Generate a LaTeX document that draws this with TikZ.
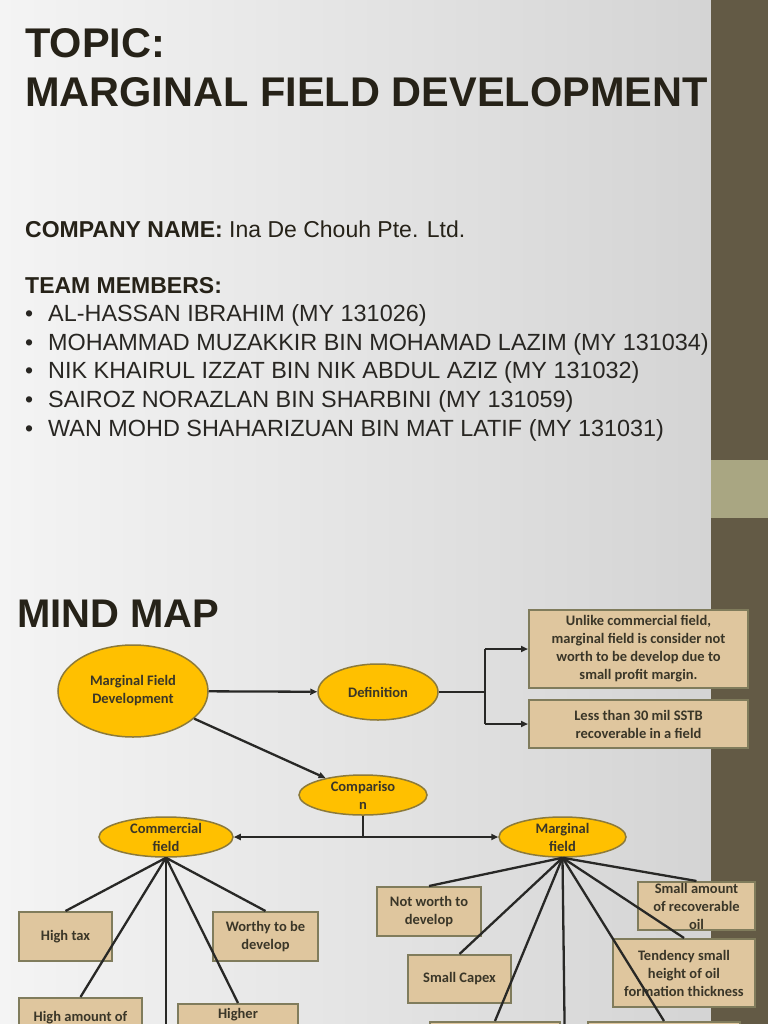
\documentclass[tikz,border=0pt]{standalone}
\usepackage{fontspec}
\setmainfont{Liberation Sans}
\newfontfamily\calfont{Carlito}
\usetikzlibrary{shapes.geometric,arrows.meta}
\definecolor{bgL}{RGB}{244,244,244}
\definecolor{bgR}{RGB}{212,212,212}
\definecolor{barc}{RGB}{99,90,69}
\definecolor{bandc}{RGB}{169,166,130}
\definecolor{titlec}{RGB}{38,34,24}
\definecolor{listc}{RGB}{40,38,34}
\definecolor{goldc}{RGB}{255,192,0}
\definecolor{goldb}{RGB}{140,122,58}
\definecolor{tanc}{RGB}{223,198,158}
\definecolor{tanb}{RGB}{128,124,92}
\definecolor{boxtxt}{RGB}{58,54,40}
\definecolor{linec}{RGB}{40,40,38}
\begin{document}
\begin{tikzpicture}[x=1pt,y=-1pt,
  txt/.style={inner sep=0pt,anchor=base west,text=titlec},
  mmfont/.style={font=\calfont\bfseries\fontsize{14.5}{18}\selectfont},
  oval/.style={ellipse,draw=goldb,line width=1.5pt,fill=goldc,inner sep=0pt,
    mmfont,text=boxtxt,align=center},
  tbox/.style={rectangle,draw=tanb,line width=2pt,fill=tanc,inner sep=0pt,
    mmfont,text=boxtxt,align=center},
  btxt/.style={inner sep=0pt,anchor=base,text=boxtxt,mmfont},
  conn/.style={draw=linec,line width=2.3pt},
  arr/.style={conn,-{Triangle[length=7pt,width=6pt]}}]
\useasboundingbox (0,0) rectangle (768,1024);
\clip (0,0) rectangle (768,1024);
% background
\shade[left color=bgL,right color=bgR] (0,0) rectangle (711,1024);
\fill[barc] (711,0) rectangle (768,1024);
\fill[bandc] (711,460) rectangle (768,518);
% header
\node[txt,font=\bfseries\fontsize{41.5}{41.5}\selectfont] (topic) at (25,57.5) {TOPIC:};
\node[txt,font=\bfseries\fontsize{41.5}{41.5}\selectfont] (mfdtitle) at (25,106.5) {MARGINAL FIELD DEVELOPMENT};
\node[txt,font=\fontsize{23}{23}\selectfont] (company) at (25,237) {\textbf{COMPANY NAME:} Ina De Chouh Pte. Ltd.};
\node[txt,font=\bfseries\fontsize{23}{23}\selectfont] (team) at (25,293) {TEAM MEMBERS:};
\foreach \t [count=\i] in {AL-HASSAN IBRAHIM (MY 131026),
  MOHAMMAD MUZAKKIR BIN MOHAMAD LAZIM (MY 131034),
  NIK KHAIRUL IZZAT BIN NIK ABDUL AZIZ (MY 131032),
  SAIROZ NORAZLAN BIN SHARBINI (MY 131059),
  WAN MOHD SHAHARIZUAN BIN MAT LATIF (MY 131031)}{
  \node[txt,text=listc,font=\fontsize{23}{23}\selectfont] (bul\i) at (25,{293+28.6*\i}) {•};
  \node[txt,text=listc,font=\fontsize{23.4}{23.4}\selectfont] (mem\i) at (48,{293+28.6*\i}) {\t};
}
\node[txt,font=\bfseries\fontsize{40}{40}\selectfont] (mindmap) at (17,627) {MIND MAP};
% mind map nodes
\node[oval,minimum width=150pt,minimum height=92pt] (mfd) at (133,691) {Marginal Field\\Development};
\node[oval,minimum width=120pt,minimum height=56pt] (def) at (378,692) {Definition};
\node[tbox,minimum width=219pt,minimum height=78pt] (d1) at (638.5,649) {Unlike commercial field,\\marginal field is consider not\\worth to be develop due to\\small profit margin.};
\node[tbox,minimum width=219pt,minimum height=48pt] (d2) at (638.5,724) {Less than 30 mil SSTB\\recoverable in a field};
\node[oval,minimum width=128pt,minimum height=40pt] (cmp) at (363,795) {Compariso\\n};
\node[oval,minimum width=134pt,minimum height=40pt] (cf) at (166,837) {Commercial\\field};
\node[oval,minimum width=127pt,minimum height=40pt] (mf) at (562.5,837) {Marginal\\field};
% commercial children
\node[tbox,minimum width=93pt,minimum height=49pt] (hightax) at (65.5,936.5) {High tax};
\node[tbox,minimum width=105pt,minimum height=49pt] (worthy) at (265.5,936.5) {Worthy to be\\develop};
\node[tbox,anchor=north,minimum width=123pt,minimum height=60pt] (highamt) at (80.5,997) {};
\node[btxt] (highamttxt) at (80.5,1021) {High amount of};
\node[tbox,anchor=north,minimum width=120pt,minimum height=60pt] (higher) at (238,1003) {};
\node[btxt] (highertxt) at (238,1018) {Higher};
% marginal children
\node[tbox,minimum width=104pt,minimum height=49pt] (notworth) at (429,911.5) {Not worth to\\develop};
\node[tbox,minimum width=103pt,minimum height=48pt] (capex) at (459.5,979) {Small Capex};
\node[tbox,minimum width=117pt,minimum height=48pt] (smallamt) at (696.5,906) {Small amount\\of recoverable\\oil};
\node[tbox,minimum width=142pt,minimum height=68pt] (tendency) at (684,973) {Tendency small\\height of oil\\formation thickness};
\node[tbox,anchor=north,minimum width=130pt,minimum height=40pt] (mb1) at (495,1021) {};
\node[tbox,anchor=north,minimum width=152pt,minimum height=40pt] (mb2) at (664,1021) {};
\coordinate (cfdown) at (166,1060);
\coordinate (mfdown) at (565,1060);
% connectors
\draw[arr] (mfd) -- (def);
\draw[arr] (mfd) -- (cmp);
\draw[conn] (def.east) -- ++(46,0) coordinate (dj);
\draw[conn] (dj |- d1.west) -- (dj |- d2.west);
\draw[arr] (dj |- d1.west) -- (d1.west);
\draw[arr] (dj |- d2.west) -- (d2.west);
\coordinate (cj) at (cmp.south |- cf.east);
\draw[conn] (cmp.south) -- (cj);
\draw[arr] (cj) -- (cf.east);
\draw[arr] (cj) -- (mf.west);
\foreach \n in {hightax,worthy,highamt,higher}{\draw[conn] (cf.south) -- (\n.north);}
\draw[conn] (cf.south) -- (cfdown);
\foreach \n in {notworth,capex,smallamt,tendency,mb1,mb2}{\draw[conn] (mf.south) -- (\n.north);}
\draw[conn] (mf.south) -- (mfdown);
\end{tikzpicture}
\end{document}
